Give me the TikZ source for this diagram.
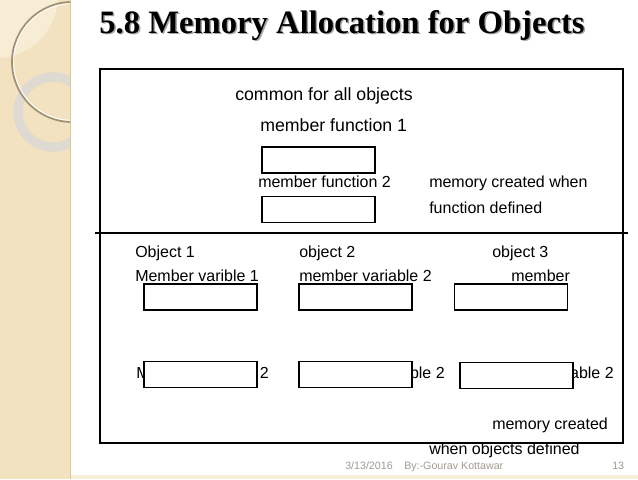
\documentclass[tikz,border=0pt]{standalone}
\usepackage{fontspec}
\setmainfont{Liberation Sans}
\newfontfamily\titlefont{Liberation Serif}
\definecolor{stripbeige}{RGB}{242,226,192}
\definecolor{striplight}{RGB}{247,236,212}
\definecolor{stripedge}{RGB}{214,198,168}
\definecolor{ringgrey}{RGB}{222,218,210}
\definecolor{arcbrown}{RGB}{160,146,118}
\definecolor{footgrey}{RGB}{160,154,144}
\definecolor{bottombeige}{RGB}{248,238,220}
\begin{document}
\begin{tikzpicture}[x=0.75pt,y=0.75pt,yscale=-1,xscale=1,
  txt/.style={anchor=base west,inner sep=0pt,font=\fontsize{12}{14}\selectfont},
  bigtxt/.style={txt,font=\fontsize{13.3}{16}\selectfont},
  foot/.style={anchor=base west,inner sep=0pt,text=footgrey,font=\fontsize{8}{10}\selectfont},
  cell/.style={draw,line width=1.1pt,fill=white,minimum width=84.75pt,minimum height=19.5pt,inner sep=0pt},
  ]
\useasboundingbox (0,0) rectangle (638,479);

%Shape: Rectangle [id:strip] 
\fill [stripbeige] (0,0) rectangle (70,479);
\begin{scope}
\clip (0,0) rectangle (70,479);
%Shape: Circle [id:light] 
\fill [striplight] (-4,-4) circle (62);
%Shape: Circle [id:ring] 
\draw [ringgrey,line width=7pt] (53,112) circle (35);
%Shape: Circle [id:arc] 
\draw [arcbrown,line width=1.3pt] (72,62) circle (60);
\draw [white,line width=0.6pt] (72,62) circle (58.3);
\end{scope}
\draw [stripedge,line width=1.4pt] (70.5,0) -- (70.5,479);
%Shape: Rectangle [id:bottom] 
\fill [bottombeige] (71,475) rectangle (638,479);

% Text Node
\node [anchor=base,inner sep=0pt,text=black!35,font=\titlefont\bfseries\fontsize{24.5}{28}\selectfont] (shadow) at (343.5,34.5) {5.8 Memory Allocation for Objects};
\node [anchor=base,inner sep=0pt,font=\titlefont\bfseries\fontsize{24.5}{28}\selectfont] (title) at (342,33) {5.8 Memory Allocation for Objects};

%Shape: Rectangle [id:frame] 
\draw [line width=1.3pt] (100,69) rectangle (623,443);
%Straight Lines [id:divider] 
\draw [line width=0.8pt] (95,233) -- (628,233);

% Text Node
\node [bigtxt] (common) at (235,100.7) {common for all objects};
\node [bigtxt] (mf1) at (260,131) {member function 1};
\node [txt] (mf2) at (258,187.5) {member function 2};
\node [txt] (whenfn) at (429,187.5) {memory created when};
\node [txt] (fndef) at (429,213) {function defined};

% Text Node
\node [txt] (obj1) at (135,257) {Object 1};
\node [txt] (obj2) at (299,257) {object 2};
\node [txt] (obj3) at (492,257) {object 3};
\node [txt] (mv1a) at (135,281.5) {Member varible 1};
\node [txt] (mv1b) at (299,281.5) {member variable 2};
\node [txt] (mv1c) at (511,281.5) {member};
\node [txt] (mv2a) at (136,378.5) {Member variable 2};
\node [txt] (mv2b) at (312,378.5) {member variable 2};
\node [txt] (mv2c) at (481,378.5) {member variable 2};
\node [txt] (whenobj) at (492,429.5) {memory created};
\node [txt] (objdef) at (429,454) {when objects defined};

%Shape: Rectangle [id:cells] 
\node [cell] (fbox1) at (318.5,160) {};
\node [cell] (fbox2) at (318.5,209.5) {};
\node [cell] (abox1) at (200.5,297) {};
\node [cell] (bbox1) at (355.5,297) {};
\node [cell] (cbox1) at (511,297) {};
\node [cell] (abox2) at (200.5,374.5) {};
\node [cell] (bbox2) at (355.5,374.5) {};
\node [cell] (cbox2) at (516.5,375.5) {};

% Text Node
\node [foot] (date) at (345,469) {3/13/2016};
\node [foot] (author) at (404,469) {By:-Gourav Kottawar};
\node [foot] (page) at (612,469) {13};

\end{tikzpicture}
\end{document}
